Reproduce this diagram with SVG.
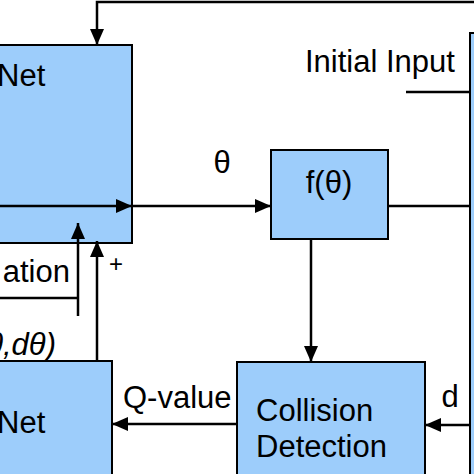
<svg xmlns="http://www.w3.org/2000/svg" width="474" height="474" viewBox="0 0 474 474">
<defs>
<style>
.box{fill:#9dcdfb;stroke:#000;stroke-width:2}
.ln{fill:none;stroke:#000;stroke-width:2.5}
.t{font-family:"Liberation Sans",Arial,sans-serif;font-size:31px;fill:#000}
.s{font-family:"Liberation Sans",Arial,sans-serif;font-size:24px;fill:#000}
</style>
<marker id="ah" viewBox="0 0 16 14" refX="16" refY="7" markerWidth="16" markerHeight="14" markerUnits="userSpaceOnUse" orient="auto">
<path d="M0,0 L16,7 L0,14 Z" fill="#000"/>
</marker>
</defs>
<rect width="474" height="474" fill="#fff"/>
<g id="net-top">
<rect class="box" x="-10" y="45" width="142" height="198"/>
<text class="t" x="-3" y="86">Net</text>
</g>
<g id="f-theta">
<rect class="box" x="271" y="150" width="117" height="89"/>
<text class="t" x="329" y="193" text-anchor="middle">f(θ)</text>
</g>
<g id="right-block">
<rect class="box" x="470" y="33" width="20" height="460"/>
</g>
<g id="collision">
<rect class="box" x="237" y="362" width="188" height="130"/>
<text class="t" x="256" y="421">Collision</text>
<text class="t" x="256" y="457">Detection</text>
</g>
<g id="net-bottom">
<rect class="box" x="-10" y="361" width="122" height="130"/>
<text class="t" x="-3" y="433">Net</text>
</g>
<g id="evaluation">
<path class="ln" d="M-5,298 L78,298"/>
<text class="t" x="70" y="282" text-anchor="end">ation</text>
</g>
<g id="labels">
<text class="t" x="305" y="72">Initial Input</text>
<text class="t" x="222" y="173" text-anchor="middle">θ</text>
<text class="t" x="123" y="408">Q-value</text>
<text class="t" x="450" y="407" text-anchor="middle">d</text>
<text class="s" x="116" y="272" text-anchor="middle">+</text>
<text class="t" x="56" y="355" text-anchor="end" font-style="italic">(θ,dθ)</text>
</g>
<g id="connectors">
<path class="ln" d="M490,2 L97,2 L97,45" stroke-width="3" marker-end="url(#ah)"/>
<path class="ln" d="M-5,206 L132,206" marker-end="url(#ah)"/>
<path class="ln" d="M132,206 L271,206" marker-end="url(#ah)"/>
<path class="ln" d="M388,206 L470,206"/>
<path class="ln" d="M406,92 L470,92"/>
<path class="ln" d="M311,239 L311,362" marker-end="url(#ah)"/>
<path class="ln" d="M470,425 L425,425" marker-end="url(#ah)"/>
<path class="ln" d="M237,424 L112,424" marker-end="url(#ah)"/>
<path class="ln" d="M97,361 L97,241" marker-end="url(#ah)"/>
<path class="ln" d="M78,316 L78,223" marker-end="url(#ah)"/>
</g>
</svg>
